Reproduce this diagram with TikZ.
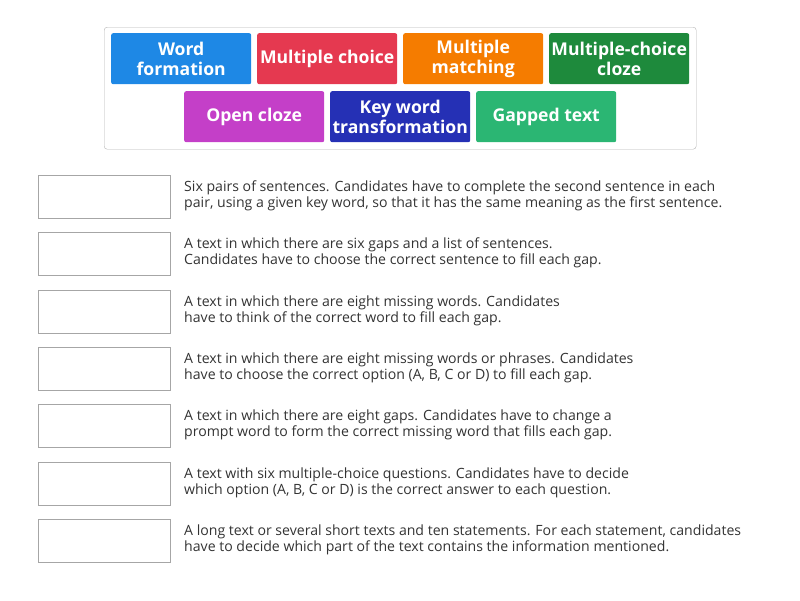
\documentclass[tikz,border=0pt]{standalone}
\usepackage{fontspec}
\setmainfont{Open Sans}
\definecolor{cblue}{HTML}{1E88E5}
\definecolor{cred}{HTML}{E53950}
\definecolor{corange}{HTML}{F57C00}
\definecolor{cgreen}{HTML}{1E8A3C}
\definecolor{cmag}{HTML}{C43FC8}
\definecolor{cnavy}{HTML}{2530B5}
\definecolor{cteal}{HTML}{2BB673}
\definecolor{txt}{HTML}{333333}
\begin{document}
\begin{tikzpicture}[x=1pt,y=-1pt,
 tile/.style={rounded corners=2pt,minimum width=140pt,minimum height=51pt,inner sep=1pt,
   text=white,font=\fontsize{17.6}{20}\selectfont\bfseries,align=center,anchor=north west},
 slot/.style={draw=gray!70,minimum width=132pt,minimum height=43pt,inner sep=0pt,anchor=north west},
 desc/.style={anchor=west,align=left,text=txt,font=\fontsize{14.1}{16.5}\selectfont,inner sep=0pt}]
\useasboundingbox (0,0) rectangle (800,600);
\node[draw=gray!60,rounded corners=3pt,minimum width=592pt,minimum height=122pt,anchor=north west,inner sep=0pt] (frame) at (104,27) {};
\node[tile,fill=cblue] (t1) at (111,33) {Word\\formation};
\node[tile,fill=cred] (t2) at (257,33) {Multiple choice};
\node[tile,fill=corange] (t3) at (403,33) {Multiple\\matching};
\node[tile,fill=cgreen] (t4) at (549,33) {Multiple-choice\\cloze};
\node[tile,fill=cmag] (t5) at (184,91) {Open cloze};
\node[tile,fill=cnavy] (t6) at (330,91) {Key word\\transformation};
\node[tile,fill=cteal] (t7) at (476,91) {Gapped text};
\foreach \i/\y/\a/\b in {
 1/175/{Six pairs of sentences. Candidates have to complete the second sentence in each}/{pair, using a given key word, so that it has the same meaning as the first sentence.},
 2/232/{A text in which there are six gaps and a list of sentences.}/{Candidates have to choose the correct sentence to fill each gap.},
 3/290/{A text in which there are eight missing words. Candidates}/{have to think of the correct word to fill each gap.},
 4/347/{A text in which there are eight missing words or phrases. Candidates}/{have to choose the correct option (A, B, C or D) to fill each gap.},
 5/404/{A text in which there are eight gaps. Candidates have to change a}/{prompt word to form the correct missing word that fills each gap.},
 6/462/{A text with six multiple-choice questions. Candidates have to decide}/{which option (A, B, C or D) is the correct answer to each question.},
 7/519/{A long text or several short texts and ten statements. For each statement, candidates}/{have to decide which part of the text contains the information mentioned.}}{
 \node[slot] (s\i) at (38,\y) {};
 \node[desc] (d\i) at (184,\y+21) {\a\\\b};
}
\end{tikzpicture}
\end{document}
